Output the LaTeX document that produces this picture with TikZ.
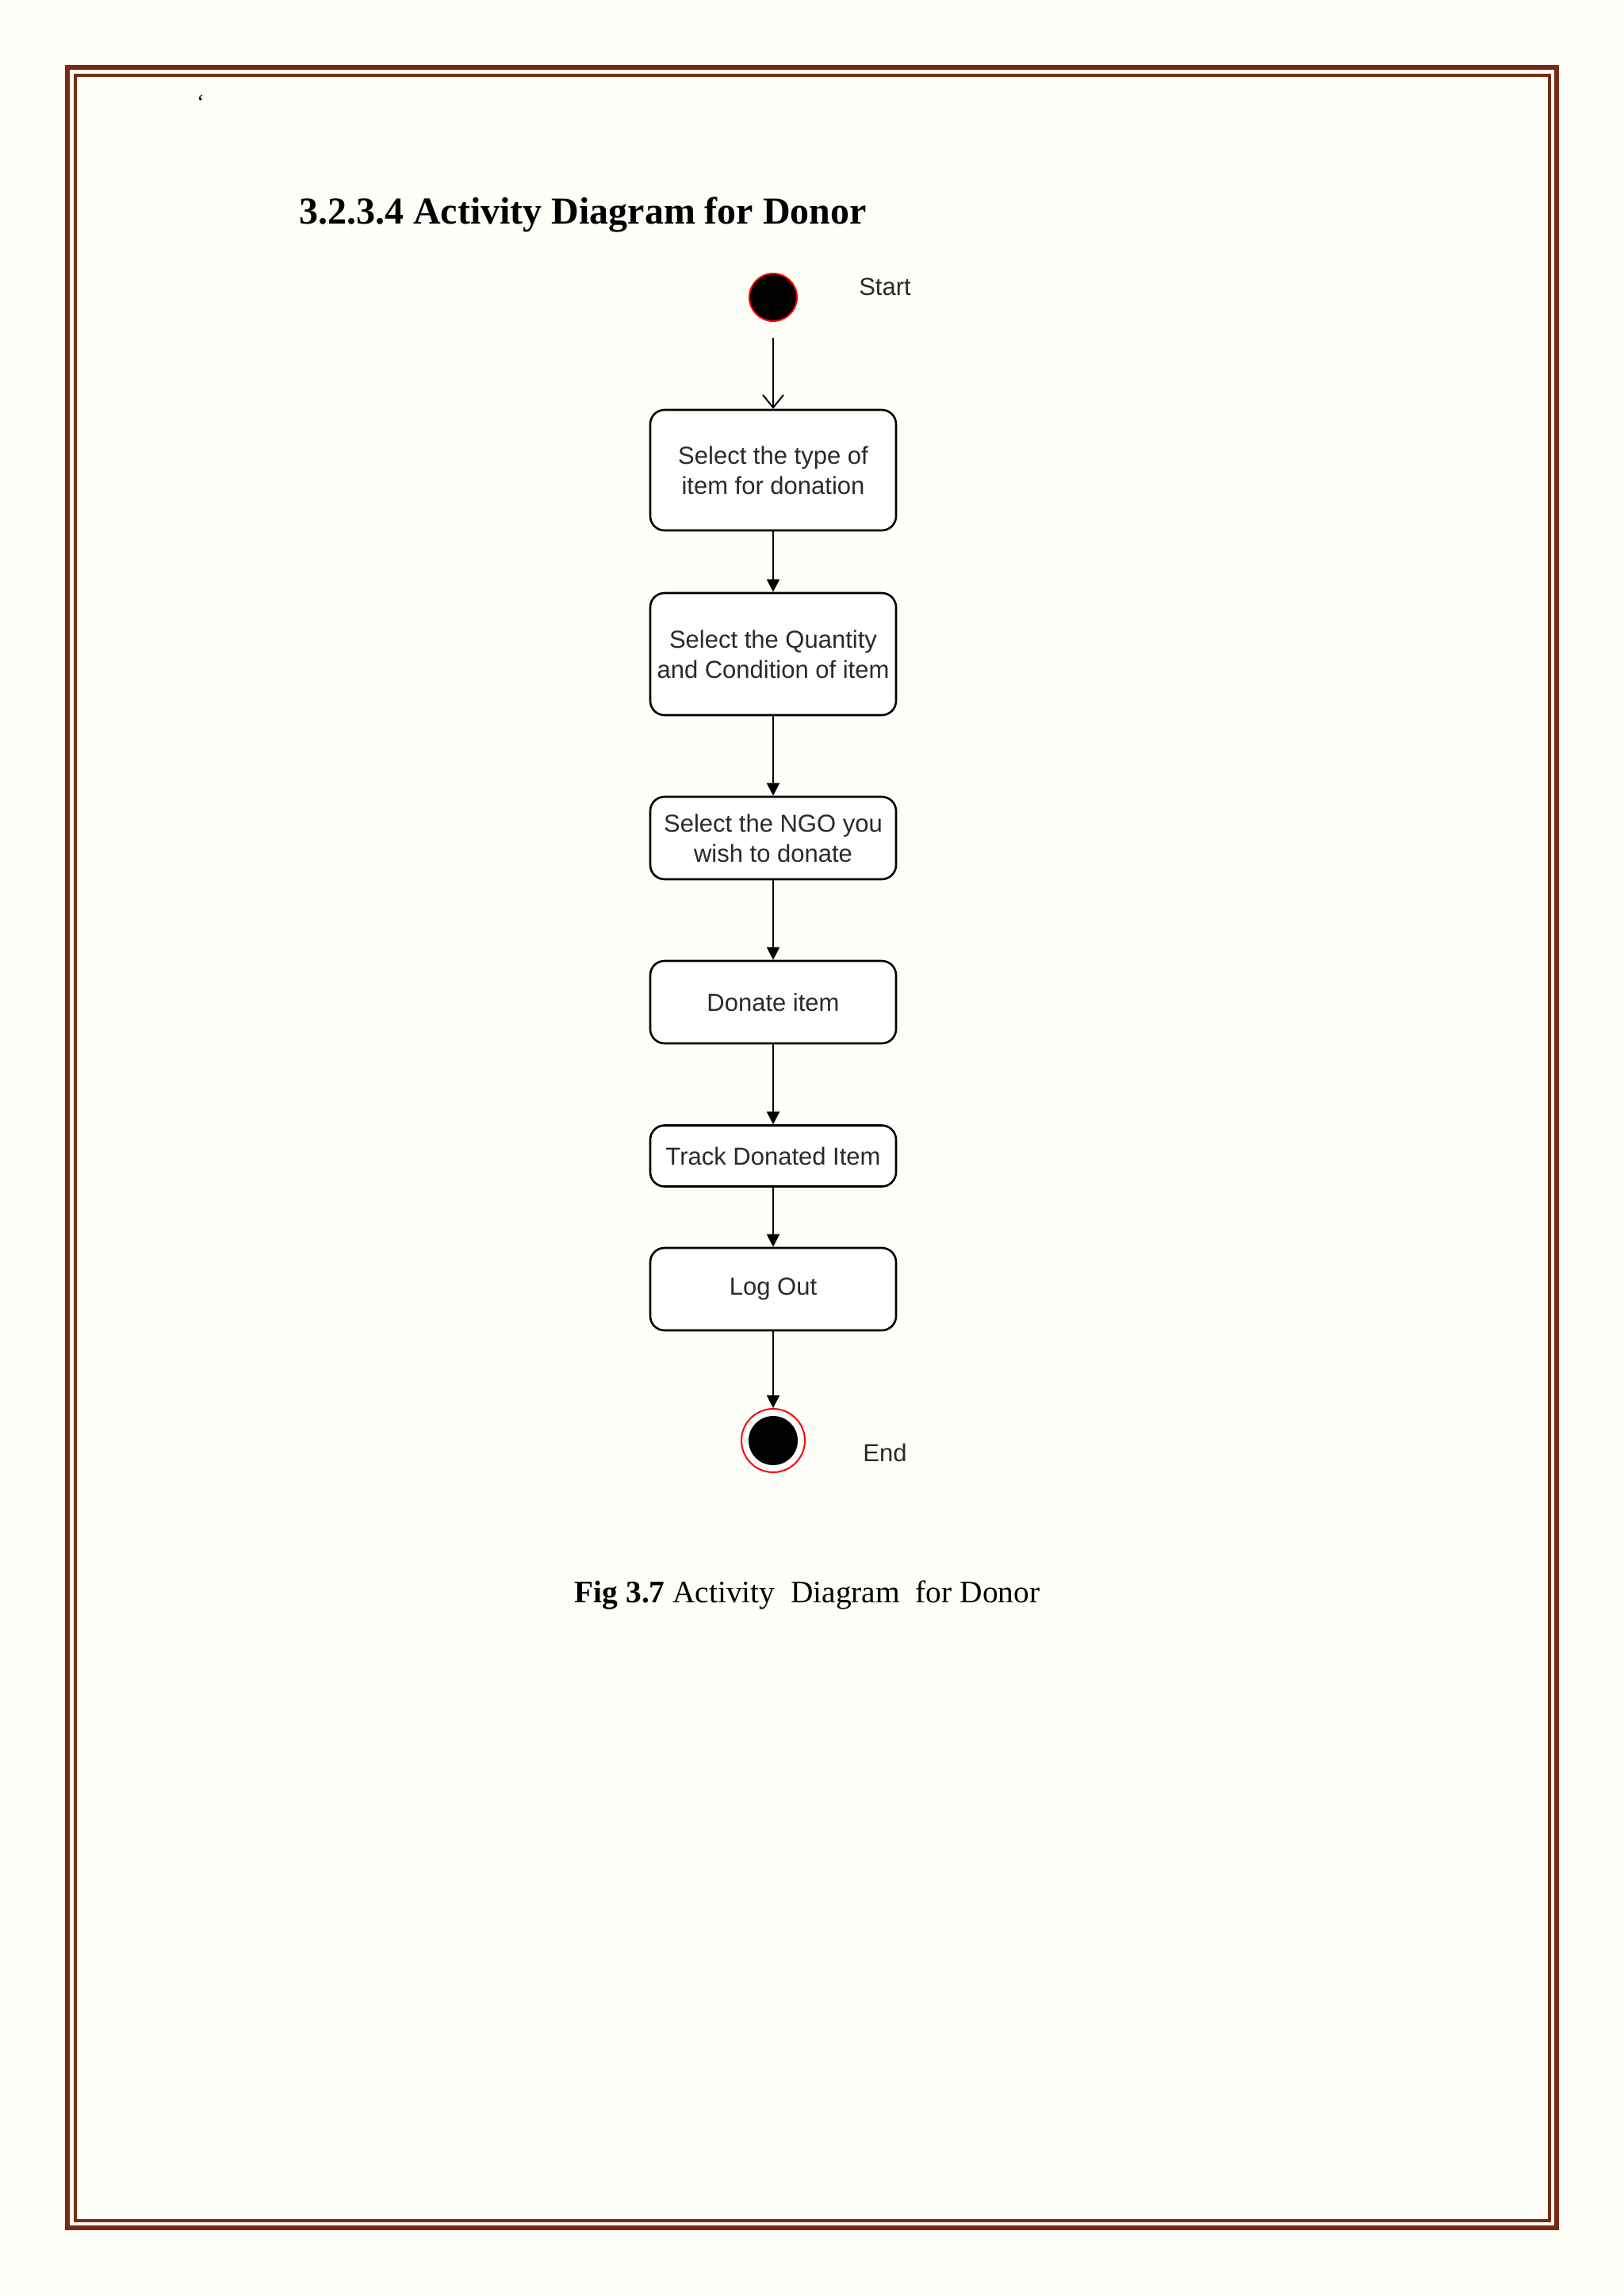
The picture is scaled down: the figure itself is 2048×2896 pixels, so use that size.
\documentclass[tikz,border=0pt]{standalone}
\usepackage{fontspec}
\setmainfont{Liberation Serif}
\newfontfamily\arialf{Liberation Sans}
\usetikzlibrary{arrows.meta}
\definecolor{brd}{HTML}{7A2A12}
\definecolor{txt}{HTML}{2A2A2A}
\begin{document}
\begin{tikzpicture}[x=0.5pt,y=-0.5pt,
  box/.style={draw=black,line width=1.3pt,rounded corners=9pt,fill=white,inner sep=0pt,minimum width=155pt,font=\arialf\fontsize{15.5}{19}\selectfont,text=txt,align=center},
  flow/.style={line width=1pt,-{Triangle[length=8pt,width=8pt]}}]
\useasboundingbox (0,0) rectangle (2048,2896);
\fill[white!98!yellow] (0,0) rectangle (2048,2896);
\draw[brd,line width=3pt] (85,85) rectangle (1963,2810);
\draw[brd,line width=2pt] (95,95) rectangle (1954,2801);
\node[font=\fontsize{14}{14}\selectfont] (tick) at (253,129) {`};
\node[anchor=west,font=\bfseries\fontsize{24}{28}\selectfont] (title) at (370,271) {3.2.3.4 Activity Diagram for Donor};
\node[circle,fill=black,draw=red,line width=1pt,minimum size=30pt,inner sep=0pt] (start) at (975,375) {};
\node[font=\arialf\fontsize{15.5}{18}\selectfont,text=txt] (startl) at (1116,362) {Start};
\node[box,minimum height=76pt] (b1) at (975,593) {Select the type of\\item for donation};
\node[box,minimum height=77pt] (b2) at (975,825) {Select the Quantity\\and Condition of item};
\node[box,minimum height=52pt] (b3) at (975,1057) {Select the NGO you\\wish to donate};
\node[box,minimum height=52pt] (b4) at (975,1264) {Donate item};
\node[box,minimum height=38.5pt] (b5) at (975,1458) {Track Donated Item};
\node[box,minimum height=52pt] (b6) at (975,1626) {Log Out};
\node[circle,draw=red,line width=1pt,fill=white,minimum size=40pt,inner sep=0pt] (end) at (975,1817) {};
\node[circle,fill=black,minimum size=31pt,inner sep=0pt] at (end) {};
\node[font=\arialf\fontsize{15.5}{18}\selectfont,text=txt] (endl) at (1116,1832) {End};
\node[font=\fontsize{19.7}{23}\selectfont] (cap) at (1018,2012) {\textbf{Fig 3.7} Activity\ \ Diagram\ \ for Donor};
\draw[line width=1pt,-{Straight Barb[length=8pt,width=13pt]}] ([yshift=-10pt]start.south) -- (b1.north);
\draw[flow] (b1) -- (b2);
\draw[flow] (b2) -- (b3);
\draw[flow] (b3) -- (b4);
\draw[flow] (b4) -- (b5);
\draw[flow] (b5) -- (b6);
\draw[flow] (b6) -- (end);
\end{tikzpicture}
\end{document}
